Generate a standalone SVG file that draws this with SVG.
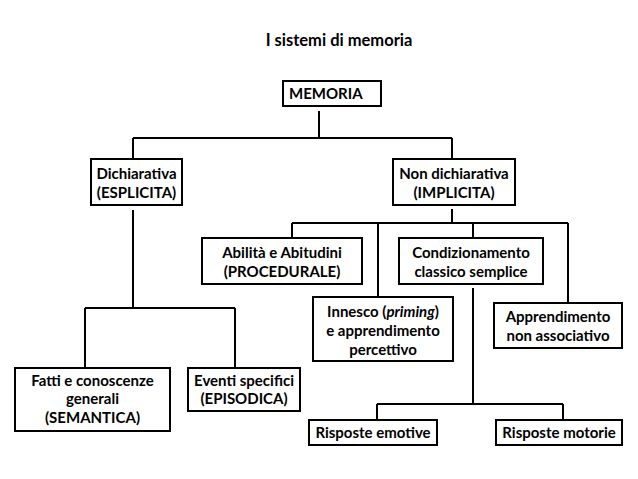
<svg xmlns="http://www.w3.org/2000/svg" width="638" height="479" viewBox="0 0 638 479">
<style>
.box{fill:#fff;stroke:#000;stroke-width:2}
.t{font-family:Lato,"Liberation Sans",sans-serif;font-weight:700;font-size:15px;fill:#000;text-anchor:middle}
.ln{fill:none;stroke:#000;stroke-width:2}
</style>
<rect width="638" height="479" fill="#fff"/>
<text class="t" x="339" y="46" style="font-size:16.5px">I sistemi di memoria</text>
<g id="connectors">
<path class="ln" d="M319,111V138M133,138H452M133,138V159M452,138V159"/>
<path class="ln" d="M133,210V308M85,308H235M85,308V368M235,308V368"/>
<path class="ln" d="M452,209V223M292,223H568M292,223V238M378,223V297M473,223V238M568,223V303"/>
<path class="ln" d="M473,288V404M377,404H563M377,404V420M563,404V420"/>
</g>
<g id="memoria"><rect class="box" x="283" y="81" width="98" height="25"/><text class="t" x="289" y="99" style="text-anchor:start">MEMORIA</text></g>
<g id="dichiarativa"><rect class="box" x="91" y="159" width="91" height="46"/><text class="t" x="136.5" y="179">Dichiarativa</text><text class="t" x="136.5" y="198">(ESPLICITA)</text></g>
<g id="nondichiarativa"><rect class="box" x="393" y="159" width="122" height="46"/><text class="t" x="454" y="179">Non dichiarativa</text><text class="t" x="454" y="198">(IMPLICITA)</text></g>
<g id="abilita"><rect class="box" x="202" y="238" width="160" height="46"/><text class="t" x="282" y="258">Abilità e Abitudini</text><text class="t" x="282" y="277">(PROCEDURALE)</text></g>
<g id="condizionamento"><rect class="box" x="399" y="238" width="144" height="46"/><text class="t" x="471" y="258">Condizionamento</text><text class="t" x="471" y="277">classico semplice</text></g>
<g id="innesco"><rect class="box" x="313" y="297" width="140" height="64"/><text class="t" x="383" y="317">Innesco (<tspan font-style="italic">priming</tspan>)</text><text class="t" x="383" y="336">e apprendimento</text><text class="t" x="383" y="355">percettivo</text></g>
<g id="apprendimento"><rect class="box" x="494" y="303" width="128" height="45"/><text class="t" x="558" y="322">Apprendimento</text><text class="t" x="558" y="341">non associativo</text></g>
<g id="fatti"><rect class="box" x="15" y="368" width="155" height="63"/><text class="t" x="92.5" y="386">Fatti e conoscenze</text><text class="t" x="92.5" y="404">generali</text><text class="t" x="92.5" y="423">(SEMANTICA)</text></g>
<g id="eventi"><rect class="box" x="188" y="368" width="112" height="43"/><text class="t" x="244" y="386">Eventi specifici</text><text class="t" x="244" y="404">(EPISODICA)</text></g>
<g id="emotive"><rect class="box" x="309" y="420" width="128" height="25"/><text class="t" x="373" y="438">Risposte emotive</text></g>
<g id="motorie"><rect class="box" x="496" y="420" width="126" height="25"/><text class="t" x="559" y="438">Risposte motorie</text></g>
</svg>
